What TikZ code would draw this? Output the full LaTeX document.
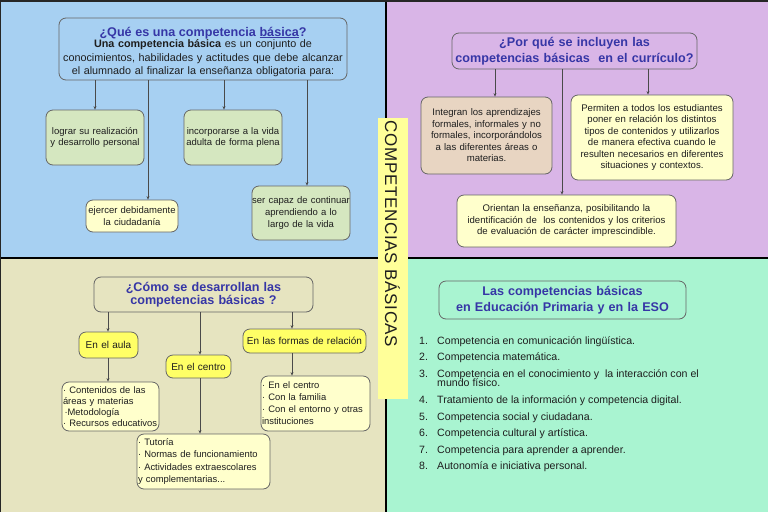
\documentclass[tikz,border=0pt]{standalone}
\usepackage{fontspec}
\setmainfont{Liberation Sans}
\newfontfamily\stripfont[LetterSpace=4]{Liberation Sans}
\usetikzlibrary{arrows.meta,calc}
\definecolor{qblue}{HTML}{A7D0F2}
\definecolor{qpurple}{HTML}{D9B5E7}
\definecolor{qbeige}{HTML}{E6E4C0}
\definecolor{qmint}{HTML}{A9F4D1}
\definecolor{stripyellow}{HTML}{FFFF99}
\definecolor{boxgreen}{HTML}{D5E7C0}
\definecolor{boxyellow}{HTML}{FFFFCC}
\definecolor{boxtan}{HTML}{E8D5C2}
\definecolor{boxbright}{HTML}{FFFF66}
\definecolor{titleblue}{HTML}{3636A6}
\definecolor{boxline}{HTML}{666666}
\definecolor{arrline}{HTML}{4A4A4A}
\definecolor{txt}{HTML}{1E1E1E}
\begin{document}
\begin{tikzpicture}[x=1pt,y=-1pt,
  bx/.style={draw=boxline, line width=0.8pt, rounded corners=7pt, inner xsep=2pt, inner ysep=0pt, align=center, text=txt},
  arr/.style={draw=arrline, line width=0.6pt, -{Stealth[length=3.5pt,width=3pt]}},
  ttl/.style={font=\fontsize{12.6}{#1}\selectfont\bfseries, text=titleblue},
  sm/.style={font=\fontsize{9.5}{11.8}\selectfont},
  smr/.style={font=\fontsize{9.6}{11.5}\selectfont},
  smb/.style={font=\fontsize{10}{12}\selectfont},
  sml/.style={font=\fontsize{9.4}{#1}\selectfont, align=left, inner xsep=1pt},
  item/.style={anchor=base west, font=\fontsize{10.6}{10}\selectfont, text=txt, inner sep=0pt},
]
\useasboundingbox (0,0) rectangle (768,512);
% quadrants
\fill[qblue] (0,0) rectangle (386,258);
\fill[qpurple] (386,0) rectangle (768,258);
\fill[qbeige] (0,258) rectangle (386,512);
\fill[qmint] (386,258) rectangle (768,512);
\draw[black, line width=1.4pt] (386,0) -- (386,512);
\draw[black, line width=1.4pt] (0,258) -- (768,258);
\draw[black!85, line width=1.6pt] (0,0.8) -- (768,0.8);
\draw[black!85, line width=1.2pt] (0.6,0) -- (0.6,512);
% central strip
\fill[stripyellow] (378,118) rectangle (408,399);
\node[rotate=-90, font=\stripfont\fontsize{17}{17}\selectfont, text=txt, inner sep=0pt] (strip) at (392.5,234) {COMPETENCIAS BÁSICAS};

% ---- top-left
\node[bx, text width=284pt, minimum height=62pt, font=\fontsize{10.8}{13.5}\selectfont] (q1t) at (203,49)
 {\rule{0pt}{15pt}{\fontsize{12.6}{15}\selectfont\bfseries\color{titleblue}¿Qué es una competencia \underline{básica}?}\\[-2pt]
  \textbf{Una competencia básica} es un conjunto de\\
  conocimientos, habilidades y actitudes que debe alcanzar\\
  el alumnado al finalizar la enseñanza obligatoria para:};
\node[bx, fill=boxgreen, sm, text width=94pt, minimum height=55pt] (q1a) at (95,137.5) {lograr su realización\\y desarrollo personal};
\node[bx, fill=boxyellow, sm, text width=88pt, minimum height=32pt] (q1b) at (132,216) {ejercer debidamente\\la ciudadanía};
\node[bx, fill=boxgreen, sm, text width=94pt, minimum height=55pt] (q1c) at (233,137.5) {incorporarse a la vida\\adulta de forma plena};
\node[bx, fill=boxgreen, sm, inner xsep=0pt, text width=98pt, minimum height=54pt] (q1d) at (301,213) {ser capaz de continuar\\aprendiendo a lo\\largo de la vida};
\draw[arr] (q1t.south -| 95,0) -- (q1a.north -| 95,0);
\draw[arr] (q1t.south -| 148,0) -- (q1b.north -| 148,0);
\draw[arr] (q1t.south -| 224,0) -- (q1c.north -| 224,0);
\draw[arr] (q1t.south -| 307,0) -- (q1d.north -| 307,0);

% ---- top-right
\node[bx, ttl=16, text width=241pt, minimum height=36pt] (q2t) at (574.5,51) {¿Por qué se incluyen las\\competencias básicas\ \ en el currículo?};
\node[bx, fill=boxtan, smr, text width=127pt, minimum height=77pt] (q2a) at (486.5,135.5) {Integran los aprendizajes\\formales, informales y no\\formales, incorporándolos\\a las diferentes áreas o\\materias.};
\node[bx, fill=boxyellow, smr, text width=158pt, minimum height=85pt] (q2b) at (652,137.5) {Permiten a todos los estudiantes\\poner en relación los distintos\\tipos de contenidos y utilizarlos\\de manera efectiva cuando le\\resulten necesarios en diferentes\\situaciones y contextos.};
\node[bx, fill=boxyellow, smr, text width=215pt, minimum height=52pt] (q2c) at (566.5,221) {Orientan la enseñanza, posibilitando la\\identificación de\ \ los contenidos y los criterios\\de evaluación de carácter imprescindible.};
\draw[arr] (q2t.south -| 495,0) -- (q2a.north -| 495,0);
\draw[arr] (q2t.south -| 562,0) -- (q2c.north -| 562,0);
\draw[arr] (q2t.south -| 648,0) -- (q2b.north -| 648,0);

% ---- bottom-left
\node[bx, ttl=13.5, text width=215pt, minimum height=35pt] (q3t) at (203.5,294.5) {¿Cómo se desarrollan las\\competencias básicas ?};
\node[bx, fill=boxbright, smb, text width=55pt, minimum height=26pt] (q3a) at (108.5,345) {En el aula};
\node[bx, fill=boxbright, smb, text width=61pt, minimum height=23pt] (q3b) at (198.5,366.5) {En el centro};
\node[bx, fill=boxbright, smb, text width=119pt, minimum height=24pt] (q3c) at (304.5,341) {En las formas de relación};
\node[bx, fill=boxyellow, sml=11, text width=95pt, minimum height=49pt] (q3d) at (110.5,406.5) {· Contenidos de las\\áreas y materias\\\hspace*{1.5pt}·Metodología\\· Recursos educativos};
\node[bx, fill=boxyellow, sml=12.3, text width=131pt, minimum height=55pt] (q3e) at (203.5,461.5) {· Tutoría\\· Normas de funcionamiento\\· Actividades extraescolares\\y complementarias...};
\node[bx, fill=boxyellow, sml=12, text width=107pt, minimum height=55pt] (q3f) at (315.5,403.5) {· En el centro\\· Con la familia\\· Con el entorno y otras\\instituciones};
\draw[arr] (q3t.south -| 108,0) -- (q3a.north -| 108,0);
\draw[arr] (q3t.south -| 200,0) -- (q3b.north -| 200,0);
\draw[arr] (q3t.south -| 292,0) -- (q3c.north -| 292,0);
\draw[arr] (q3a.south -| 108,0) -- (q3d.north -| 108,0);
\draw[arr] (q3b.south -| 200,0) -- (q3e.north -| 200,0);
\draw[arr] (q3c.south -| 292,0) -- (q3f.north -| 292,0);

% ---- bottom-right
\node[bx, ttl=16.5, text width=243pt, minimum height=38pt] (q4t) at (562.5,300) {Las competencias básicas\\en Educación Primaria y en la ESO};
\node[item] (n1) at (419,344.8) {1.};
\node[item] (t1) at (437,344.8) {Competencia en comunicación lingüística.};
\node[item] (n2) at (419,360.8) {2.};
\node[item] (t2) at (437,360.8) {Competencia matemática.};
\node[item] (n3) at (419,377) {3.};
\node[item] (t3) at (437,377) {Competencia en el conocimiento y\ \ la interacción con el};
\node[item] (t3b) at (437,386.5) {mundo físico.};
\node[item] (n4) at (419,403.8) {4.};
\node[item] (t4) at (437,403.8) {Tratamiento de la información y competencia digital.};
\node[item] (n5) at (419,420.5) {5.};
\node[item] (t5) at (437,420.5) {Competencia social y ciudadana.};
\node[item] (n6) at (419,436.8) {6.};
\node[item] (t6) at (437,436.8) {Competencia cultural y artística.};
\node[item] (n7) at (419,453) {7.};
\node[item] (t7) at (437,453) {Competencia para aprender a aprender.};
\node[item] (n8) at (419,469) {8.};
\node[item] (t8) at (437,469) {Autonomía e iniciativa personal.};
\end{tikzpicture}
\end{document}
